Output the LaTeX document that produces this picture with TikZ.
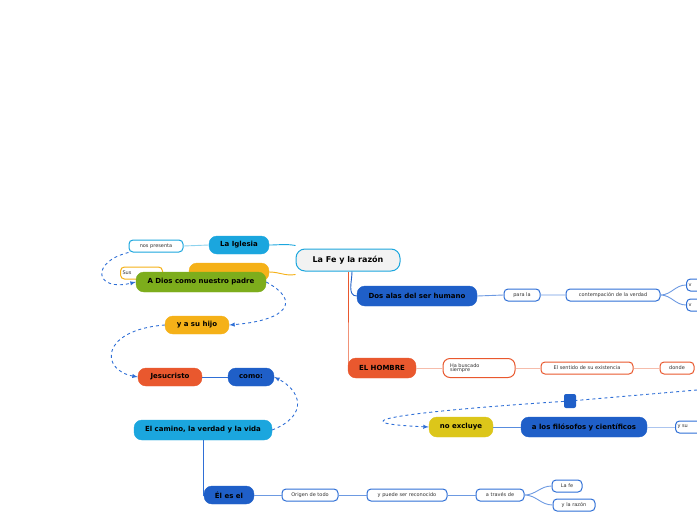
\documentclass[tikz,border=0pt]{standalone}
\usepackage{fontspec}
\setmainfont{DejaVu Sans}
\begin{document}
\begin{tikzpicture}[x=1pt,y=-1pt,
 big/.style={rounded corners=8pt,minimum height=18pt,inner sep=1pt,font=\fontsize{7}{8}\selectfont\bfseries,text=black},
 sml/.style={draw,line width=1pt,fill=white,rounded corners=4pt,minimum height=12pt,inner sep=1pt,font=\fontsize{5}{6}\selectfont,text=black!80},
 lnk/.style={line width=0.9pt},
 dsh/.style={dashed,line width=0.9pt,draw=blb,-latex}]
\useasboundingbox (0,0) rectangle (697,520);
\definecolor{cy}{HTML}{1BA6DE}\definecolor{bl}{HTML}{1F5FC8}\definecolor{gr}{HTML}{7DAD1C}
\definecolor{og}{HTML}{F5B118}\definecolor{rd}{HTML}{E9582E}\definecolor{ye}{HTML}{DCC61A}
\definecolor{blb}{HTML}{2F6FD6}
% nodes
\node[big,draw=cy,fill=cy,minimum width=60pt] (igl) at (239,245) {La Iglesia};
\node[sml,draw=cy,minimum width=54pt] (nos) at (156,246) {nos presenta};
\node[big,draw=og,fill=og,minimum width=80pt] (orn) at (229,272) {};
\node[sml,draw=og,minimum width=42pt,anchor=west,align=left,text width=38pt] (sus) at (120,273) {Sus};
\node[big,draw=gr,fill=gr,minimum width=130pt,minimum height=20pt] (dios) at (201,282) {A Dios como nuestro padre};
\node[big,draw=og,fill=og,minimum width=64pt] (hijo) at (197,325) {y a su hijo};
\node[big,draw=rd,fill=rd,minimum width=64pt] (jes) at (170,377) {Jesucristo};
\node[big,draw=bl,fill=bl,minimum width=46pt] (como) at (251,377) {como:};
\node[big,draw=cy,fill=cy,minimum width=138pt,minimum height=20pt] (cam) at (203,430) {El camino, la verdad y la vida};
\node[big,draw=bl,fill=bl,minimum width=50pt] (el) at (229,495) {Él es el};
\node[sml,draw=blb,minimum width=56pt] (ori) at (310,495) {Origen de todo};
\node[sml,draw=blb,minimum width=80pt] (pue) at (407,495) {y puede ser reconocido};
\node[sml,draw=blb,minimum width=48pt] (tra) at (500,495) {a través de};
\node[sml,draw=blb,minimum width=30pt] (fe) at (567,486) {La fe};
\node[sml,draw=blb,minimum width=42pt] (raz) at (574,505) {y la razón};
\node[draw=cy,line width=1pt,fill=black!5,rounded corners=9pt,minimum width=104pt,minimum height=22pt,font=\fontsize{8}{9}\selectfont\bfseries] (root) at (348,260) {La Fe y la razón};
\node[big,draw=bl,fill=bl,minimum width=120pt,minimum height=20pt] (alas) at (417,296) {Dos alas del ser humano};
\node[sml,draw=blb,minimum width=36pt] (para) at (522,295) {para la};
\node[sml,draw=blb,minimum width=94pt] (cont) at (613,295) {contempación de la verdad};
\node[sml,draw=blb,minimum width=30pt,anchor=west,align=left,text width=26pt] (v1) at (686,285) {v};
\node[sml,draw=blb,minimum width=30pt,anchor=west,align=left,text width=26pt] (v2) at (686,305) {v};
\node[big,draw=rd,fill=rd,minimum width=68pt,minimum height=20pt] (hom) at (382,368) {EL HOMBRE};
\node[sml,draw=rd,rounded corners=7pt,minimum width=72pt,minimum height=19pt,align=left,text width=58pt] (bus) at (479,368) {Ha buscado\\[-2pt]siempre};
\node[sml,draw=rd,minimum width=92pt] (sen) at (587,368) {El sentido de su existencia};
\node[sml,draw=rd,minimum width=34pt] (don) at (677,368) {donde};
\node[fill=bl,rounded corners=2pt,minimum width=12pt,minimum height=14pt,inner sep=0pt] (sq) at (570,401) {};
\node[big,draw=ye,fill=ye,minimum width=64pt,minimum height=20pt] (noex) at (461,427) {no excluye};
\node[big,draw=bl,fill=bl,minimum width=126pt,minimum height=20pt] (fil) at (584,427) {a los filósofos y científicos};
\node[sml,draw=blb,minimum width=40pt,anchor=west,align=left,text width=36pt] (ysu) at (675,427) {y su};
\coordinate (ed1) at (697,390);
% connectors
\draw[lnk,cy] ([yshift=3pt]root.north west) to[out=170,in=0] (igl.east);
\draw[lnk,cy!50] (igl.west) -- (nos.east);
\draw[lnk,og] ([yshift=-3pt]root.south west) to[out=190,in=0] (orn.east);
\draw[lnk,blb] (jes.east) -- (como.west);
\draw[lnk,blb] (cam.south) |- (el.west);
\draw[lnk,blb!70] (el.east) -- (ori.west) (ori.east) -- (pue.west) (pue.east) -- (tra.west);
\draw[lnk,blb!70] (tra.east) to[out=0,in=180] (fe.west) (tra.east) to[out=0,in=180] (raz.west);
\draw[lnk,bl] ([xshift=4pt]root.south) to[out=-90,in=180] (alas.west);
\draw[lnk,rd] (root.south) -- ++(0,100) |- (hom.west);
\draw[lnk,blb!70] (alas.east) -- (para.west) (para.east) -- (cont.west);
\draw[lnk,blb!70] (cont.east) to[out=0,in=180] (v1.west) (cont.east) to[out=0,in=180] (v2.west);
\draw[lnk,rd!40] (hom.east) -- (bus.west) (bus.east) -- (sen.west) (sen.east) -- (don.west);
\draw[lnk,blb!80] (noex.east) -- (fil.west);
\draw[lnk,blb!40] (fil.east) -- (ysu.west);
% dashed
\draw[dsh] (nos.south west) .. controls (90,262) and (95,292) .. (dios.west);
\draw[dsh] (dios.east) .. controls (300,300) and (290,320) .. (hijo.east);
\draw[dsh] (hijo.west) .. controls (100,330) and (100,370) .. (jes.west);
\draw[dsh] (cam.east) .. controls (310,415) and (300,390) .. (como.east);
\draw[dashed,line width=0.9pt,draw=blb] (ed1) -- (sq);
\draw[dsh] (sq) .. controls (430,410) and (320,422) .. (noex.west);
\end{tikzpicture}
\end{document}
